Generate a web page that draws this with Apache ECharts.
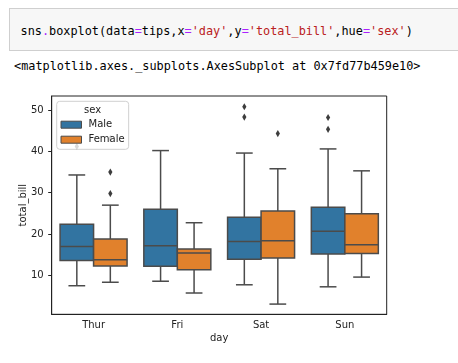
<!DOCTYPE html>
<html><head><meta charset="utf-8">
<script src="https://cdn.jsdelivr.net/npm/echarts@6/dist/echarts.min.js"></script>
<style>
html,body{margin:0;padding:0;background:#fff;width:458px;height:363px;overflow:hidden;}
#cell{position:absolute;left:9px;top:8px;width:460px;height:43px;background:#f7f7f7;border:1px solid #cfcfcf;box-sizing:border-box;}
.mono{font-family:"DejaVu Sans Mono",monospace;font-size:11.85px;line-height:14px;white-space:pre;position:absolute;color:#000;}
#code{left:20.5px;top:23.5px;}
#out{left:14px;top:58.5px;}
.op{color:#aa22ff}.st{color:#ba2121}
#chart{position:absolute;left:0;top:0;width:458px;height:363px;}
</style></head>
<body>
<div id="cell"></div>
<div id="code" class="mono">sns<span class="op">.</span>boxplot(data<span class="op">=</span>tips,x<span class="op">=</span><span class="st">'day'</span>,y<span class="op">=</span><span class="st">'total_bill'</span>,hue<span class="op">=</span><span class="st">'sex'</span>)</div>
<div id="out" class="mono">&lt;matplotlib.axes._subplots.AxesSubplot at 0x7fd77b459e10&gt;</div>
<div id="chart"></div>
<script>
const days = ['Thur', 'Fri', 'Sat', 'Sun'];
const hues = ['Male', 'Female'];
const yTicks = [10, 20, 30, 40, 50];

const maleLow  = [7.51, 8.6, 7.74, 7.25];
const maleQ1   = [13.6, 12.2, 13.9, 15.2];
const maleMed  = [17.0, 17.2, 18.2, 20.7];
const maleQ3   = [22.4, 26.0, 24.1, 26.5];
const maleHigh = [34.3, 40.2, 39.6, 40.6];

const femaleLow  = [8.35, 5.75, 3.07, 9.6];
const femaleQ1   = [12.3, 11.4, 14.2, 15.3];
const femaleMed  = [13.8, 15.4, 18.4, 17.4];
const femaleQ3   = [18.8, 16.4, 25.6, 24.9];
const femaleHigh = [27.0, 22.75, 35.8, 35.3];

// outliers: [day index, value]
const maleOutliers   = [[0, 41.2], [2, 48.3], [2, 50.8], [3, 45.35], [3, 48.2]];
const femaleOutliers = [[0, 29.8], [0, 35.0], [0, 43.1], [2, 44.3]];

const colors = ['#3274a1', '#e1812c'];
const lineColor = '#4b4b4b';

function boxData(lo, q1, med, q3, hi) {
  return days.map((d, i) => [i, lo[i], q1[i], med[i], q3[i], hi[i]]);
}

function boxRender(h) {
  return function (params, api) {
    const cat = api.value(0);
    const bw = api.size([1, 0])[0];
    const w = bw * 0.4;
    const cx = api.coord([cat, 0])[0];
    const x0 = h === 0 ? cx - w : cx;
    const xm = x0 + w / 2;
    const y = k => api.coord([cat, api.value(k)])[1];
    const yLo = y(1), yQ1 = y(2), yMed = y(3), yQ3 = y(4), yHi = y(5);
    const ls = {stroke: lineColor, lineWidth: 1.5, fill: null};
    return {
      type: 'group',
      children: [
        {type: 'line', shape: {x1: xm, y1: yQ3, x2: xm, y2: yHi}, style: ls},
        {type: 'line', shape: {x1: xm, y1: yQ1, x2: xm, y2: yLo}, style: ls},
        {type: 'line', shape: {x1: xm - w / 4, y1: yHi, x2: xm + w / 4, y2: yHi}, style: ls},
        {type: 'line', shape: {x1: xm - w / 4, y1: yLo, x2: xm + w / 4, y2: yLo}, style: ls},
        {type: 'rect', shape: {x: x0, y: yQ3, width: w, height: yQ1 - yQ3},
          style: {fill: colors[h], stroke: lineColor, lineWidth: 1.5}},
        {type: 'line', shape: {x1: x0, y1: yMed, x2: x0 + w, y2: yMed}, style: ls}
      ]
    };
  };
}

function outRender(h) {
  return function (params, api) {
    const cat = api.value(0);
    const bw = api.size([1, 0])[0];
    const w = bw * 0.4;
    const c = api.coord([cat, api.value(1)]);
    const x = h === 0 ? c[0] - w / 2 : c[0] + w / 2;
    const yy = c[1];
    return {
      type: 'polygon',
      shape: {points: [[x, yy - 3.6], [x + 2.1, yy], [x, yy + 3.6], [x - 2.1, yy]]},
      style: {fill: '#3d3d3d', stroke: null}
    };
  };
}

const chart = echarts.init(document.getElementById('chart'), null, {renderer: 'canvas'});
const txt = {fontFamily: 'DejaVu Sans', fontSize: 10, color: '#222'};
chart.setOption({
  animation: false,
  grid: {left: 51.7, right: 71.3, top: 96, bottom: 48.7, show: true, borderColor: '#222', borderWidth: 1, backgroundColor: 'transparent'},
  xAxis: {
    type: 'category', data: days, boundaryGap: true,
    name: 'day', nameLocation: 'middle', nameGap: 19, nameMoveOverlap: false, nameTextStyle: txt,
    axisLine: {lineStyle: {color: '#222', width: 1}},
    axisTick: {alignWithLabel: true, length: 3.5, lineStyle: {color: '#222'}},
    axisLabel: Object.assign({margin: 6}, txt),
    splitLine: {show: false}
  },
  yAxis: {
    type: 'value', min: 0.6, max: 53.4,
    name: 'total_bill', nameLocation: 'middle', nameGap: 23, nameRotate: 90, nameMoveOverlap: false, nameTextStyle: txt,
    axisLine: {show: true, lineStyle: {color: '#222', width: 1}},
    axisTick: {show: true, length: 3.5, customValues: yTicks, lineStyle: {color: '#222'}},
    axisLabel: Object.assign({margin: 8, customValues: yTicks}, txt),
    splitLine: {show: false}
  },
  legend: {
    orient: 'vertical', left: 56.7, top: 101.3, z: 10,
    padding: [17.4, 4, 3.6, 3.8],
    itemWidth: 20.5, itemHeight: 7, itemGap: 3,
    icon: 'rect',
    backgroundColor: 'rgba(255,255,255,0.8)', borderColor: '#d0d0d0', borderWidth: 1, borderRadius: 3,
    textStyle: {fontFamily: 'DejaVu Sans', fontSize: 10, color: '#222', lineHeight: 12, padding: [0, 0, 0, 2]},
    data: [
      {name: 'Male', itemStyle: {color: colors[0], borderColor: lineColor, borderWidth: 1}},
      {name: 'Female', itemStyle: {color: colors[1], borderColor: lineColor, borderWidth: 1}}
    ]
  },
  graphic: [{
    type: 'text', z: 100, x: 92.5, y: 110.7,
    style: {text: 'sex', font: '10px "DejaVu Sans"', fill: '#222', align: 'center', verticalAlign: 'middle'}
  }],
  series: [
    {name: 'Male', type: 'custom', renderItem: boxRender(0), data: boxData(maleLow, maleQ1, maleMed, maleQ3, maleHigh),
      encode: {x: 0, y: [1, 2, 3, 4, 5]}, itemStyle: {color: colors[0]}, z: 2},
    {name: 'Female', type: 'custom', renderItem: boxRender(1), data: boxData(femaleLow, femaleQ1, femaleMed, femaleQ3, femaleHigh),
      encode: {x: 0, y: [1, 2, 3, 4, 5]}, itemStyle: {color: colors[1]}, z: 2},
    {name: 'Male', type: 'custom', renderItem: outRender(0), data: maleOutliers, encode: {x: 0, y: 1}, z: 2},
    {name: 'Female', type: 'custom', renderItem: outRender(1), data: femaleOutliers, encode: {x: 0, y: 1}, z: 2}
  ]
});
</script>
</body></html>
